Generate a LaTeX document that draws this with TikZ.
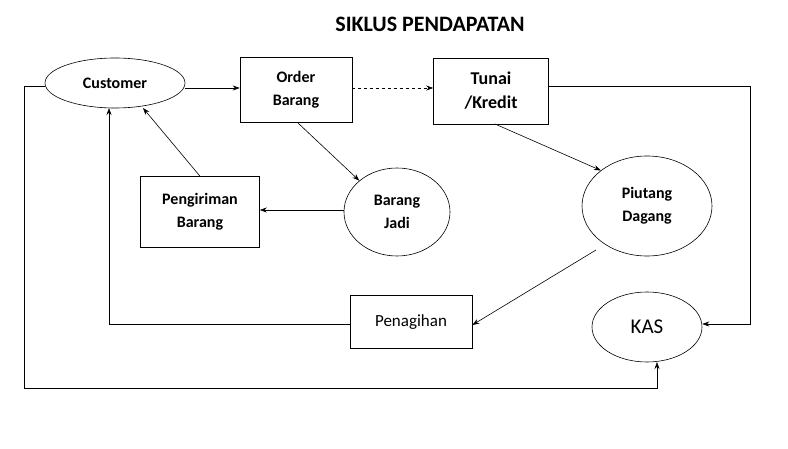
\documentclass[tikz,border=0pt]{standalone}
\usepackage{fontspec}
\setmainfont{Carlito}
\usetikzlibrary{arrows.meta,shapes.geometric}
\begin{document}
\begin{tikzpicture}[x=1pt,y=-1pt,
  box/.style={draw,semithick,rectangle,align=center,font=\bfseries\fontsize{16}{23}\selectfont},
  oval/.style={draw,semithick,ellipse,align=center,font=\bfseries\fontsize{16}{23}\selectfont,inner sep=0pt},
  arr/.style={-{Stealth[length=7pt,width=5pt]},semithick}]
\useasboundingbox (0,0) rectangle (788,449);
\node[font=\bfseries\fontsize{22}{24}\selectfont] (title) at (430,24) {SIKLUS PENDAPATAN};
\node[oval,minimum width=140,minimum height=50] (cust) at (115,83) {Customer};
\node[box,minimum width=112,minimum height=65] (order) at (296,90) {Order\\Barang};
\node[box,minimum width=115,minimum height=66,font=\bfseries\fontsize{18}{24}\selectfont] (tunai) at (491,91) {Tunai\\/Kredit};
\node[box,minimum width=119,minimum height=71] (kirim) at (200,212) {Pengiriman\\Barang};
\node[oval,minimum width=106,minimum height=88] (jadi) at (397,212) {Barang\\Jadi};
\node[oval,minimum width=130,minimum height=100] (piut) at (647,206) {Piutang\\Dagang};
\node[box,minimum width=122,minimum height=53,font=\fontsize{17}{20}\selectfont] (tagih) at (411,322) {Penagihan};
\node[oval,minimum width=110,minimum height=70,font=\fontsize{21}{24}\selectfont] (kas) at (647,327) {KAS};
\draw[arr] (cust.east |- 0,88) -- (order.west |- 0,88);
\draw[arr,dashed] (order.east |- 0,88) -- (tunai.west |- 0,88);
\draw[arr] (298,123) -- (jadi.north west);
\draw[arr] (495,124) -- (piut.north west);
\draw[arr] (tunai.east |- 0,86) -- (750,86) -- (750,324) -- (kas.east |- 0,324);
\draw[arr] (jadi.west |- 0,210) -- (kirim.east |- 0,210);
\draw[arr] (kirim.north) -- (143,108);
\draw[arr] (596,250) -- (tagih.east |- 0,325);
\draw[arr] (tagih.west |- 0,324) -- (109,324) -- (109,108);
\draw[arr] (cust.west |- 0,86) -- (24,86) -- (24,388) -- (657,388) -- (657,362);
\end{tikzpicture}
\end{document}
